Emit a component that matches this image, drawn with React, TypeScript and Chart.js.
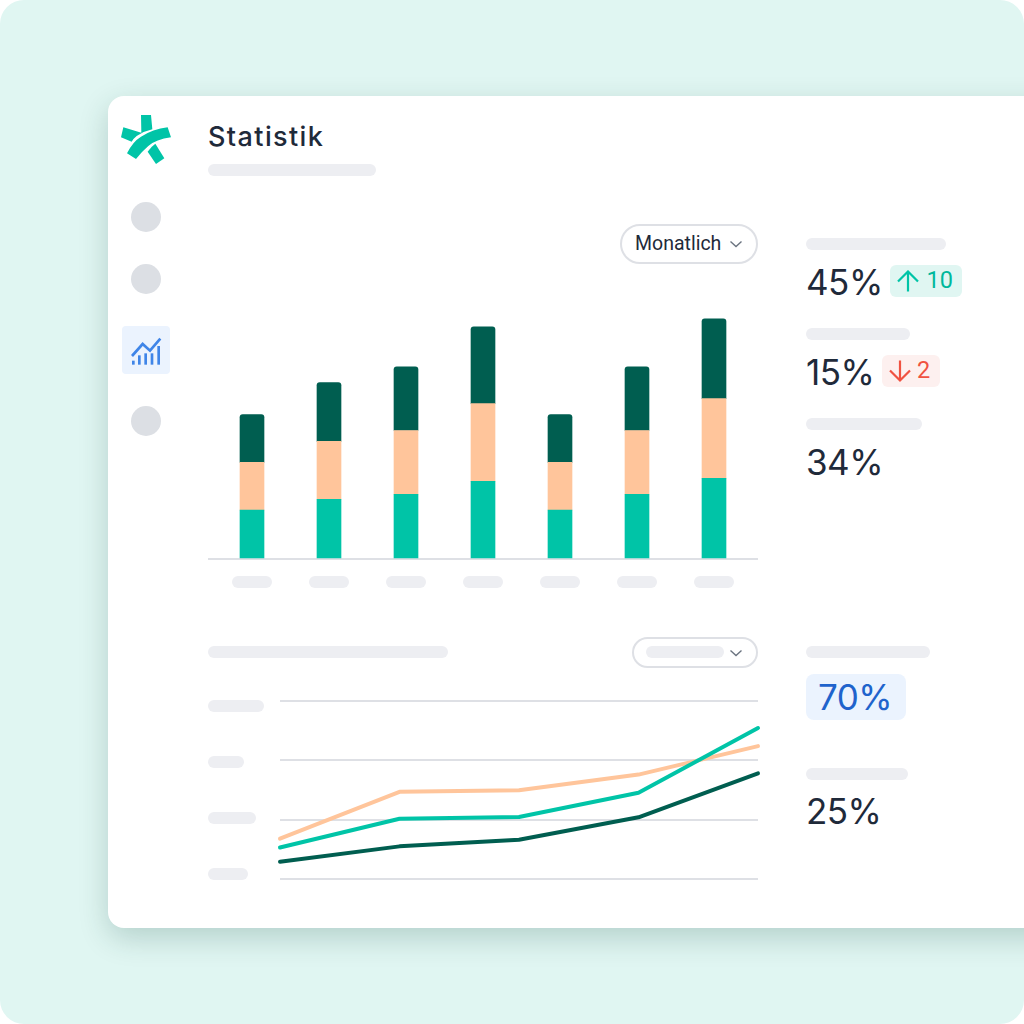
import React, { useEffect, useRef } from "react";
import { Chart, registerables } from "chart.js";

Chart.register(...registerables);

const barPositions = [0, 1, 2, 3, 4, 5, 6];
const barGreen = [48, 59, 64, 77, 48, 64, 80];
const barPeach = [48, 58, 64, 78, 48, 64, 80];
const barDark = [48, 59, 64, 77, 48, 64, 80];

const lineLabels = ["1", "2", "3", "4", "5"];
const linePeach = [13.6, 29.4, 29.9, 35.2, 44.8];
const lineGreen = [10.6, 20.3, 20.9, 29.1, 50.9];
const lineDark = [5.8, 11.0, 13.2, 20.8, 35.6];

const TEAL = "#00C4A7";
const PEACH = "#FFC59B";
const DARK = "#005E50";
const GRID = "#DEE0E5";
const PILL = "#EDEEF2";
const INK = "#1F2A3A";

const pillsPlugin = {
  id: "xPills",
  afterDraw(chart: any) {
    const { ctx, scales } = chart;
    ctx.save();
    ctx.fillStyle = PILL;
    barPositions.forEach((v) => {
      const cx = scales.x.getPixelForValue(v);
      ctx.beginPath();
      ctx.roundRect(cx - 20, chart.chartArea.bottom + 17, 40, 12, 6);
      ctx.fill();
    });
    ctx.restore();
  },
};

function Pill({ x, y, w }: { x: number; y: number; w: number }) {
  return <div style={{ position: "absolute", left: x, top: y, width: w, height: 12, borderRadius: 6, background: PILL }} />;
}

function Txt({ x, base, size, color, family, weight, spacing, children }: any) {
  return (
    <div
      style={{
        position: "absolute",
        left: x,
        top: base - size,
        height: size * 1.25,
        lineHeight: `${size * 1.25}px`,
        fontSize: size,
        color,
        fontFamily: family,
        fontWeight: weight ?? 400,
        letterSpacing: spacing ?? 0,
        whiteSpace: "nowrap",
      }}
    >
      {children}
    </div>
  );
}

function Circle({ y }: { y: number }) {
  return <div style={{ position: "absolute", left: 131, top: y - 15, width: 30, height: 30, borderRadius: 15, background: "#DCDFE4" }} />;
}

function Chevron({ x, y }: { x: number; y: number }) {
  return (
    <svg style={{ position: "absolute", left: x, top: y }} width="14" height="8" viewBox="0 0 14 8">
      <path d="M1.5 1.5 L7 6.5 L12.5 1.5" fill="none" stroke="#6B7480" strokeWidth="1.4" />
    </svg>
  );
}

export default function App() {
  const barRef = useRef<HTMLCanvasElement>(null);
  const lineRef = useRef<HTMLCanvasElement>(null);

  useEffect(() => {
    const common = { responsive: false, animation: false as const, plugins: { legend: { display: false }, tooltip: { enabled: false } } };
    const bar = new Chart(barRef.current!, {
      type: "bar",
      data: {
        datasets: [
          { data: barPositions.map((x, i) => ({ x, y: barGreen[i] })), backgroundColor: TEAL, barThickness: 24 },
          { data: barPositions.map((x, i) => ({ x, y: barPeach[i] })), backgroundColor: PEACH, barThickness: 24 },
          {
            data: barPositions.map((x, i) => ({ x, y: barDark[i] })),
            backgroundColor: DARK,
            barThickness: 24,
            borderRadius: { topLeft: 3, topRight: 3, bottomLeft: 0, bottomRight: 0 },
            borderSkipped: false,
          },
        ],
      },
      options: {
        ...common,
        layout: { padding: { top: 0, right: 0, bottom: 41, left: 0 } },
        scales: {
          x: {
            type: "linear",
            stacked: true,
            offset: false,
            min: -44 / 77,
            max: 6 + 44 / 77,
            grid: { display: false, drawTicks: false },
            ticks: { display: false },
            border: { display: true, color: GRID, width: 2 },
          },
          y: {
            stacked: true,
            min: -1,
            max: 259,
            grid: { display: false, drawTicks: false },
            ticks: { display: false },
            border: { display: false },
          },
        },
      },
      plugins: [pillsPlugin],
    } as any);

    const line = new Chart(lineRef.current!, {
      type: "line",
      data: {
        labels: lineLabels,
        datasets: [
          { data: lineDark, borderColor: DARK },
          { data: lineGreen, borderColor: TEAL },
          { data: linePeach, borderColor: PEACH },
        ].map((d) => ({ ...d, borderWidth: 4, pointRadius: 0, tension: 0, fill: false, clip: false, borderCapStyle: "round", borderJoinStyle: "round" })),
      },
      options: {
        ...common,
        layout: { padding: { top: 10, right: 10, bottom: 10, left: 10 } },
        scales: {
          x: {
            offset: false,
            grid: { display: false, drawTicks: false },
            ticks: { display: false },
            border: { display: false },
          },
          y: {
            min: 0,
            max: 60,
            grid: { color: GRID, lineWidth: 2, drawTicks: false },
            ticks: { display: false, stepSize: 20 },
            border: { display: false },
          },
        },
      },
    } as any);
    return () => {
      bar.destroy();
      line.destroy();
    };
  }, []);

  return (
    <div style={{ position: "fixed", left: 0, top: 0, width: 1024, height: 1024, overflow: "hidden", background: "#fff" }}>
      <div style={{ position: "absolute", inset: 0, background: "#E0F6F2", borderRadius: 24, overflow: "hidden" }}>
        <div
          style={{
            position: "absolute",
            left: 108,
            top: 96,
            width: 960,
            height: 832,
            borderRadius: 16,
            background: "#fff",
            boxShadow: "0 10px 30px rgba(0,60,50,0.2)",
          }}
        />
        <svg style={{ position: "absolute", left: 116, top: 110 }} width="60" height="56" viewBox="0 0 180 168">
          <g fill={TEAL}>
            <path d="M75 15 H105 L109 58 Q85 63 62 78 Q53 85 47 95 L15 82 L22 52 L76 68 Z" />
            <path d="M155 52 L165 82 Q120 88 97 108 Q76 126 60 147 L33 130 Q50 95 75 80 Q110 58 155 52 Z" />
            <path d="M118 101 L145 145 L120 162 L95 125 Q105 110 118 101 Z" />
          </g>
        </svg>
        <Circle y={217} />
        <Circle y={279} />
        <Circle y={421} />
        <div style={{ position: "absolute", left: 122, top: 326, width: 48, height: 48, borderRadius: 4, background: "#EBF3FE" }} />
        <svg style={{ position: "absolute", left: 122, top: 326 }} width="48" height="48" viewBox="0 0 144 144">
          <path d="M30 90 L62 54 L84 74 L115 38" fill="none" stroke="#3F85E8" strokeWidth="8" />
          <g fill="#3F85E8">
            <rect x="30" y="104" width="8" height="12" />
            <rect x="48" y="88" width="8" height="28" />
            <rect x="67" y="82" width="8" height="34" />
            <rect x="86" y="82" width="8" height="34" />
            <rect x="106" y="60" width="8" height="56" />
          </g>
        </svg>

        <Txt x={208} base={147} size={27} color={INK} family="Inter" weight={500} spacing={1.4}>Statistik</Txt>
        <Pill x={208} y={164} w={168} />

        <div style={{ position: "absolute", left: 620, top: 224, width: 134, height: 36, border: `2px solid ${GRID}`, borderRadius: 20 }} />
        <Txt x={635} base={251} size={19.5} color={INK} family="Roboto">Monatlich</Txt>
        <Chevron x={729} y={240} />

        <canvas ref={barRef} width={550} height={300} style={{ position: "absolute", left: 208, top: 300, width: 550, height: 300, display: "block" }} />

        <Pill x={806} y={238} w={140} />
        <Txt x={806} base={296} size={35} color={INK} family="Inter" spacing={-0.5}>45%</Txt>
        <div style={{ position: "absolute", left: 890, top: 265, width: 72, height: 32, borderRadius: 6, background: "#E0F6F2" }} />
        <svg style={{ position: "absolute", left: 896, top: 270 }} width="24" height="24" viewBox="0 0 24 24">
          <path d="M12 21.5 V1.5 M2 11.5 L12 1.5 L22 11.5" fill="none" stroke={TEAL} strokeWidth="2.2" />
        </svg>
        <Txt x={926.5} base={289.5} size={23.5} color="#00B89C" family="Roboto">10</Txt>

        <Pill x={806} y={328} w={104} />
        <Txt x={806} base={386} size={35} color={INK} family="Inter" spacing={-0.5}>15%</Txt>
        <div style={{ position: "absolute", left: 882, top: 355, width: 58, height: 32, borderRadius: 6, background: "#FDF0EF" }} />
        <svg style={{ position: "absolute", left: 888, top: 360 }} width="24" height="24" viewBox="0 0 24 24">
          <path d="M12 0.5 V20.5 M2 10.5 L12 20.5 L22 10.5" fill="none" stroke="#F05241" strokeWidth="2.2" />
        </svg>
        <Txt x={917} base={379.5} size={23.5} color="#F05241" family="Roboto">2</Txt>

        <Pill x={806} y={418} w={116} />
        <Txt x={806} base={476} size={35} color={INK} family="Inter" spacing={-0.5}>34%</Txt>

        <Pill x={208} y={646} w={240} />
        <div style={{ position: "absolute", left: 632, top: 637, width: 122, height: 27, border: `2px solid ${GRID}`, borderRadius: 16 }} />
        <Pill x={646} y={646} w={78} />
        <Chevron x={729} y={649} />

        <Pill x={208} y={700} w={56} />
        <Pill x={208} y={756} w={36} />
        <Pill x={208} y={812} w={48} />
        <Pill x={208} y={868} w={40} />

        <canvas ref={lineRef} width={498} height={198} style={{ position: "absolute", left: 270, top: 691, width: 498, height: 198, display: "block" }} />

        <Pill x={806} y={646} w={124} />
        <div style={{ position: "absolute", left: 806, top: 674, width: 100, height: 46, borderRadius: 8, background: "#EBF3FE" }} />
        <Txt x={818} base={711} size={35} color="#1F63CC" family="Inter" spacing={-0.5}>70%</Txt>
        <Pill x={806} y={768} w={102} />
        <Txt x={806} base={825} size={35} color={INK} family="Inter" spacing={-0.5}>25%</Txt>
      </div>
    </div>
  );
}
